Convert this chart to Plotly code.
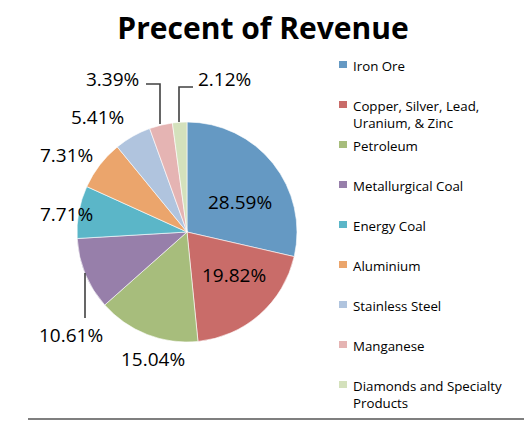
import plotly.graph_objects as go

# revenue share by commodity (percent)
labels = ["Iron Ore", "Copper, Silver, Lead, Uranium, & Zinc", "Petroleum",
          "Metallurgical Coal", "Energy Coal", "Aluminium", "Stainless Steel",
          "Manganese", "Diamonds and Specialty Products"]
legend_text = ["Iron Ore", "Copper, Silver, Lead,<br>Uranium, & Zinc", "Petroleum",
               "Metallurgical Coal", "Energy Coal", "Aluminium", "Stainless Steel",
               "Manganese", "Diamonds and Specialty<br>Products"]
values = [28.59, 19.82, 15.04, 10.61, 7.71, 7.31, 5.41, 3.39, 2.12]
colors = ["#6599C3", "#C96C69", "#A7BD7C", "#977FAA", "#5BB6C8",
          "#EBA56C", "#B0C4DE", "#E5B4B3", "#D4E1BC"]

# page is shown with an 8px body margin, so work in page pixels and shift
OFF = 8
W, H = 516, 414
font = "Open Sans"


def px(x, y):
    return (x - OFF) / W, 1 - (y - OFF) / H


# where the data labels sit (page pixels, Excel "best fit" style)
label_pos = [(240, 202), (234, 275), (153, 359), (71, 335), (66, 214),
             (66, 155), (97, 117), (112, 79), (224, 79)]
# leader lines for the labels that are pushed off their slice
leaders = {
    3: [(85, 273), (85, 318)],
    7: [(146, 84), (160, 84), (160, 124)],
    8: [(193, 87), (179, 87), (179, 122)],
}

x0, y0 = px(77, 342)
x1, y1 = px(297, 122)
pie = go.Pie(
    labels=labels, values=values, sort=False, direction="clockwise",
    rotation=0, marker=dict(colors=colors, line=dict(color="white", width=0.6)),
    textinfo="none", showlegend=False, hoverinfo="label+value",
    domain=dict(x=[x0, x1], y=[y0, y1]),
)

fig = go.Figure(pie)

anns = []
shapes = []
for i, v in enumerate(values):
    lx, ly = px(*label_pos[i])
    anns.append(dict(text=f"{v:.2f}%", xref="paper", yref="paper", x=lx, y=ly,
                     xanchor="center", yanchor="middle", showarrow=False,
                     font=dict(size=19, family=font, color="black")))
for i, pts in leaders.items():
    path = "M " + " L ".join(f"{px(a, b)[0]},{px(a, b)[1]}" for a, b in pts)
    shapes.append(dict(type="path", xref="paper", yref="paper", path=path,
                       line=dict(color="#404040", width=1.6)))

# hand-drawn legend, one row every 40 px
for i, (t, c) in enumerate(zip(legend_text, colors)):
    yc = 65 + 40 * i
    sx0, sy0 = px(339, yc + 3)
    sx1, sy1 = px(347, yc - 4)
    shapes.append(dict(type="rect", xref="paper", yref="paper",
                       x0=sx0, x1=sx1, y0=sy0, y1=sy1,
                       fillcolor=c, line=dict(width=0)))
    tx, ty = px(351, yc - 10)
    anns.append(dict(text=t, xref="paper", yref="paper", x=tx, y=ty,
                     xanchor="left", yanchor="top", align="left", showarrow=False,
                     font=dict(size=13.3, family=font, color="black")))

# bottom rule
lx0, ly = px(28, 419)
shapes.append(dict(type="line", xref="paper", yref="paper", x0=lx0, x1=1,
                   y0=ly, y1=ly, line=dict(color="black", width=1.2)))

tx, ty = px(263, 28)
fig.update_layout(
    width=W, height=H, margin=dict(l=0, r=0, t=0, b=0),
    paper_bgcolor="white", plot_bgcolor="white",
    title=dict(text="<b>Precent of Revenue</b>", x=tx, xanchor="center",
               y=ty, yanchor="middle",
               font=dict(size=30, family=font, color="black")),
    annotations=anns, shapes=shapes,
)

fig.write_html("out.html")
